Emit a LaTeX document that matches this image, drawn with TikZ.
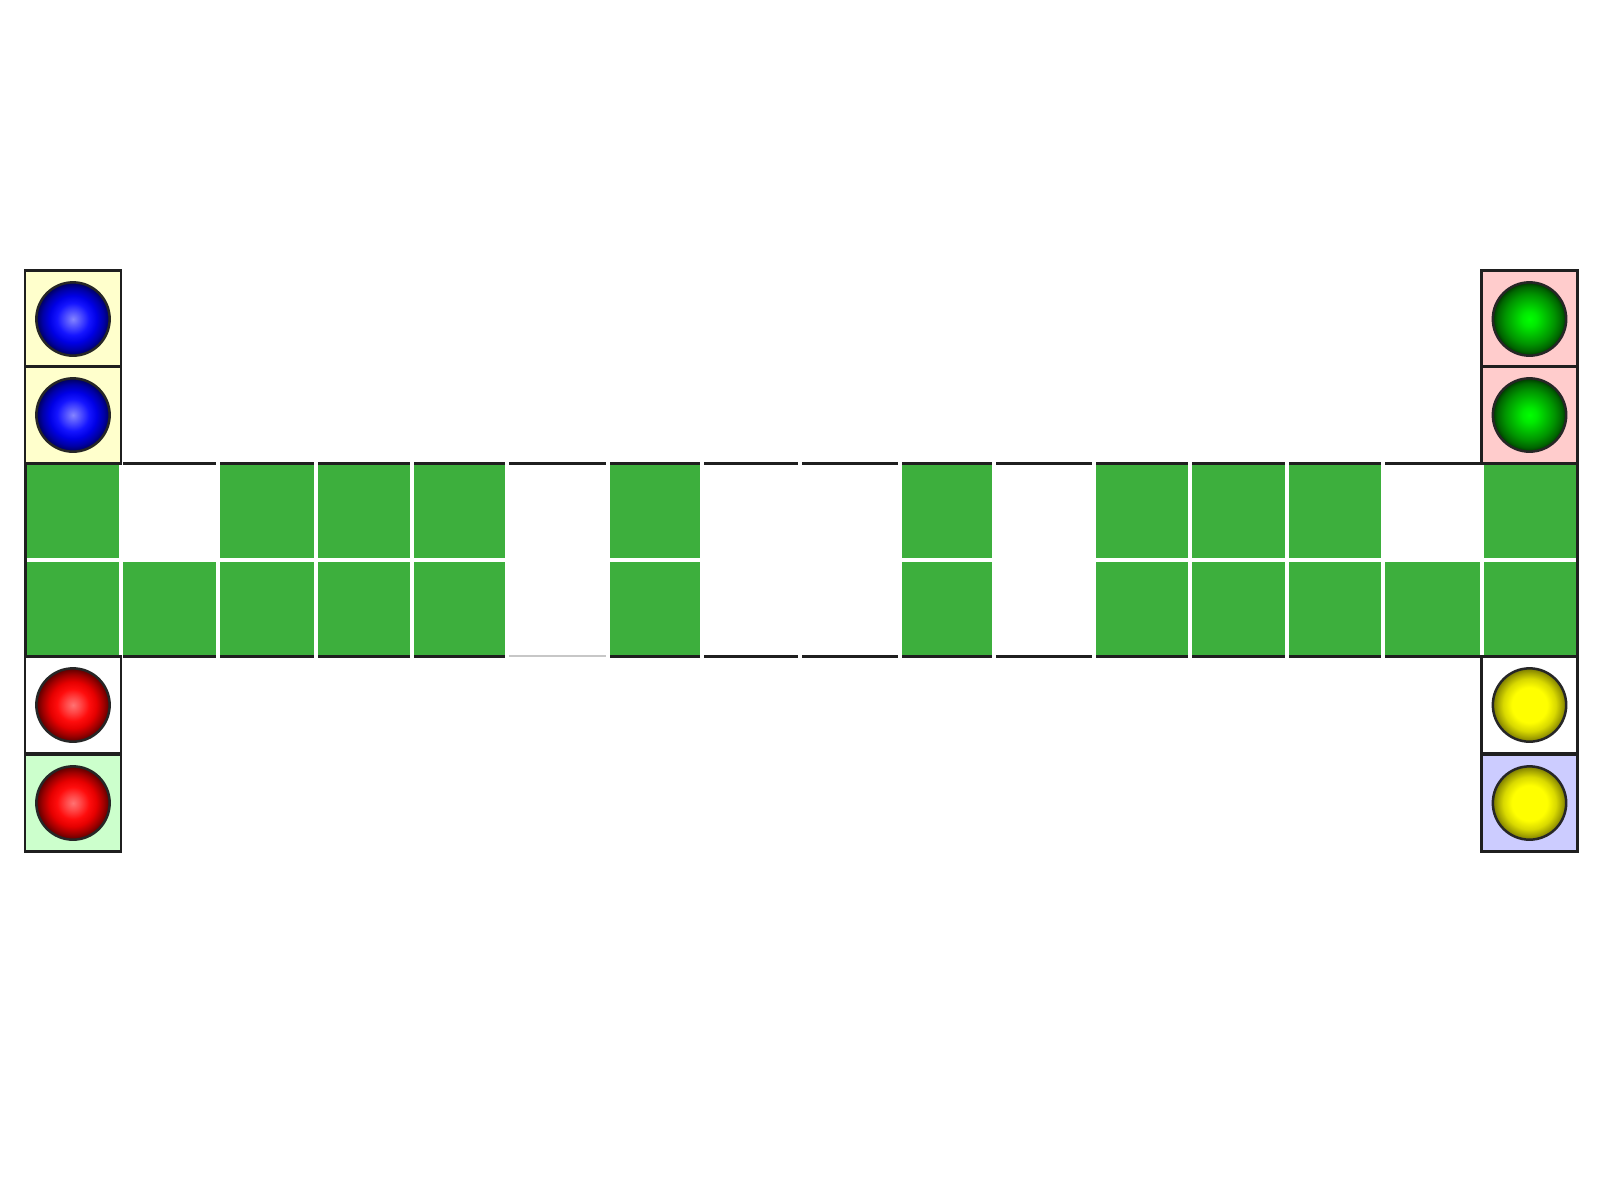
\documentclass[tikz,border=0pt]{standalone}
\definecolor{cellgreen}{RGB}{61,175,61}
\definecolor{boxyellow}{RGB}{255,255,204}
\definecolor{boxpink}{RGB}{255,204,204}
\definecolor{boxmint}{RGB}{204,255,204}
\definecolor{boxblue}{RGB}{204,204,255}
\pgfdeclareradialshading{ballblue}{\pgfpoint{0bp}{0bp}}{color(0bp)=(blue!48!white); color(5bp)=(blue!68!white); color(11bp)=(blue!92!white); color(16bp)=(blue!90!black); color(21bp)=(blue!65!black); color(25bp)=(blue!35!black); color(50bp)=(blue!35!black)}
\pgfdeclareradialshading{ballred}{\pgfpoint{0bp}{0bp}}{color(0bp)=(red!55!white); color(5bp)=(red!72!white); color(11bp)=(red!95!white); color(16bp)=(red!90!black); color(21bp)=(red!62!black); color(25bp)=(red!35!black); color(50bp)=(red!35!black)}
\pgfdeclareradialshading{ballgreen}{\pgfpoint{0bp}{0bp}}{color(0bp)=(green); color(5bp)=(green!92!black); color(11bp)=(green!75!black); color(17bp)=(green!58!black); color(22bp)=(green!40!black); color(25bp)=(green!22!black); color(50bp)=(green!22!black)}
\pgfdeclareradialshading{ballyellow}{\pgfpoint{0bp}{0bp}}{color(0bp)=(yellow); color(12bp)=(yellow); color(18bp)=(yellow!85!black); color(22bp)=(yellow!65!black); color(25bp)=(yellow!48!black); color(50bp)=(yellow!48!black)}
\tikzset{
  blackedge/.style={draw=black!88, line width=0.9pt},
  whiteedge/.style={draw=white, line width=1pt},
  sidebox/.style={rectangle, draw=black!88, line width=0.85pt, inner sep=0pt, minimum width=28.8pt, minimum height=29.1pt},
  ballnode/.style={circle, draw=black!85, line width=0.75pt, inner sep=0pt, minimum size=22pt}
}
\begin{document}
\begin{tikzpicture}[x=0.3pt, y=-0.3pt]
\useasboundingbox (0,0) rectangle (1600,1200);
% green cells, top row
\foreach \a/\b in {25/121, 218/316, 316/412, 412/507, 608/702, 900/994, 1094/1190, 1190/1287, 1287/1383, 1482/1577}
  \fill[cellgreen] (\a,463) rectangle (\b,560);
% green cells, bottom row
\foreach \a/\b in {25/121, 121/218, 218/316, 316/412, 412/507, 608/702, 900/994, 1094/1190, 1190/1287, 1287/1383, 1383/1482, 1482/1577}
  \fill[cellgreen] (\a,560) rectangle (\b,656);
% outer top and bottom lines
\draw[blackedge] (25,463) -- (1577,463);
\draw[blackedge] (25,656) -- (507,656);
\draw[draw=black!22, line width=0.8pt] (507,656) -- (608,656);
\draw[blackedge] (608,656) -- (1577,656);
% white inner lines
\foreach \x in {121,218,316,412,507,608,702,800,900,994,1094,1190,1287,1383,1482}
  \draw[whiteedge] (\x,460) -- (\x,659);
\draw[whiteedge] (25,560) -- (1577,560);
% left and right ends
\draw[blackedge] (25,463) -- (25,656);
\draw[blackedge] (1577,463) -- (1577,656);
% side boxes
\node[sidebox, fill=boxyellow] (lt1) at (73,319) {};
\node[sidebox, fill=boxyellow] (lt2) at (73,415) {};
\node[sidebox, fill=white] (lb1) at (73,705) {};
\node[sidebox, fill=boxmint] (lb2) at (73,803) {};
\node[sidebox, fill=boxpink] (rt1) at (1529.5,319) {};
\node[sidebox, fill=boxpink] (rt2) at (1529.5,415) {};
\node[sidebox, fill=white] (rb1) at (1529.5,705) {};
\node[sidebox, fill=boxblue] (rb2) at (1529.5,803) {};
% balls
\node[ballnode, shading=ballblue] (blue1) at (lt1.center) {};
\node[ballnode, shading=ballblue] (blue2) at (lt2.center) {};
\node[ballnode, shading=ballred] (red1) at (lb1.center) {};
\node[ballnode, shading=ballred] (red2) at (lb2.center) {};
\node[ballnode, shading=ballgreen] (green1) at (rt1.center) {};
\node[ballnode, shading=ballgreen] (green2) at (rt2.center) {};
\node[ballnode, shading=ballyellow] (yellow1) at (rb1.center) {};
\node[ballnode, shading=ballyellow] (yellow2) at (rb2.center) {};
\end{tikzpicture}
\end{document}
